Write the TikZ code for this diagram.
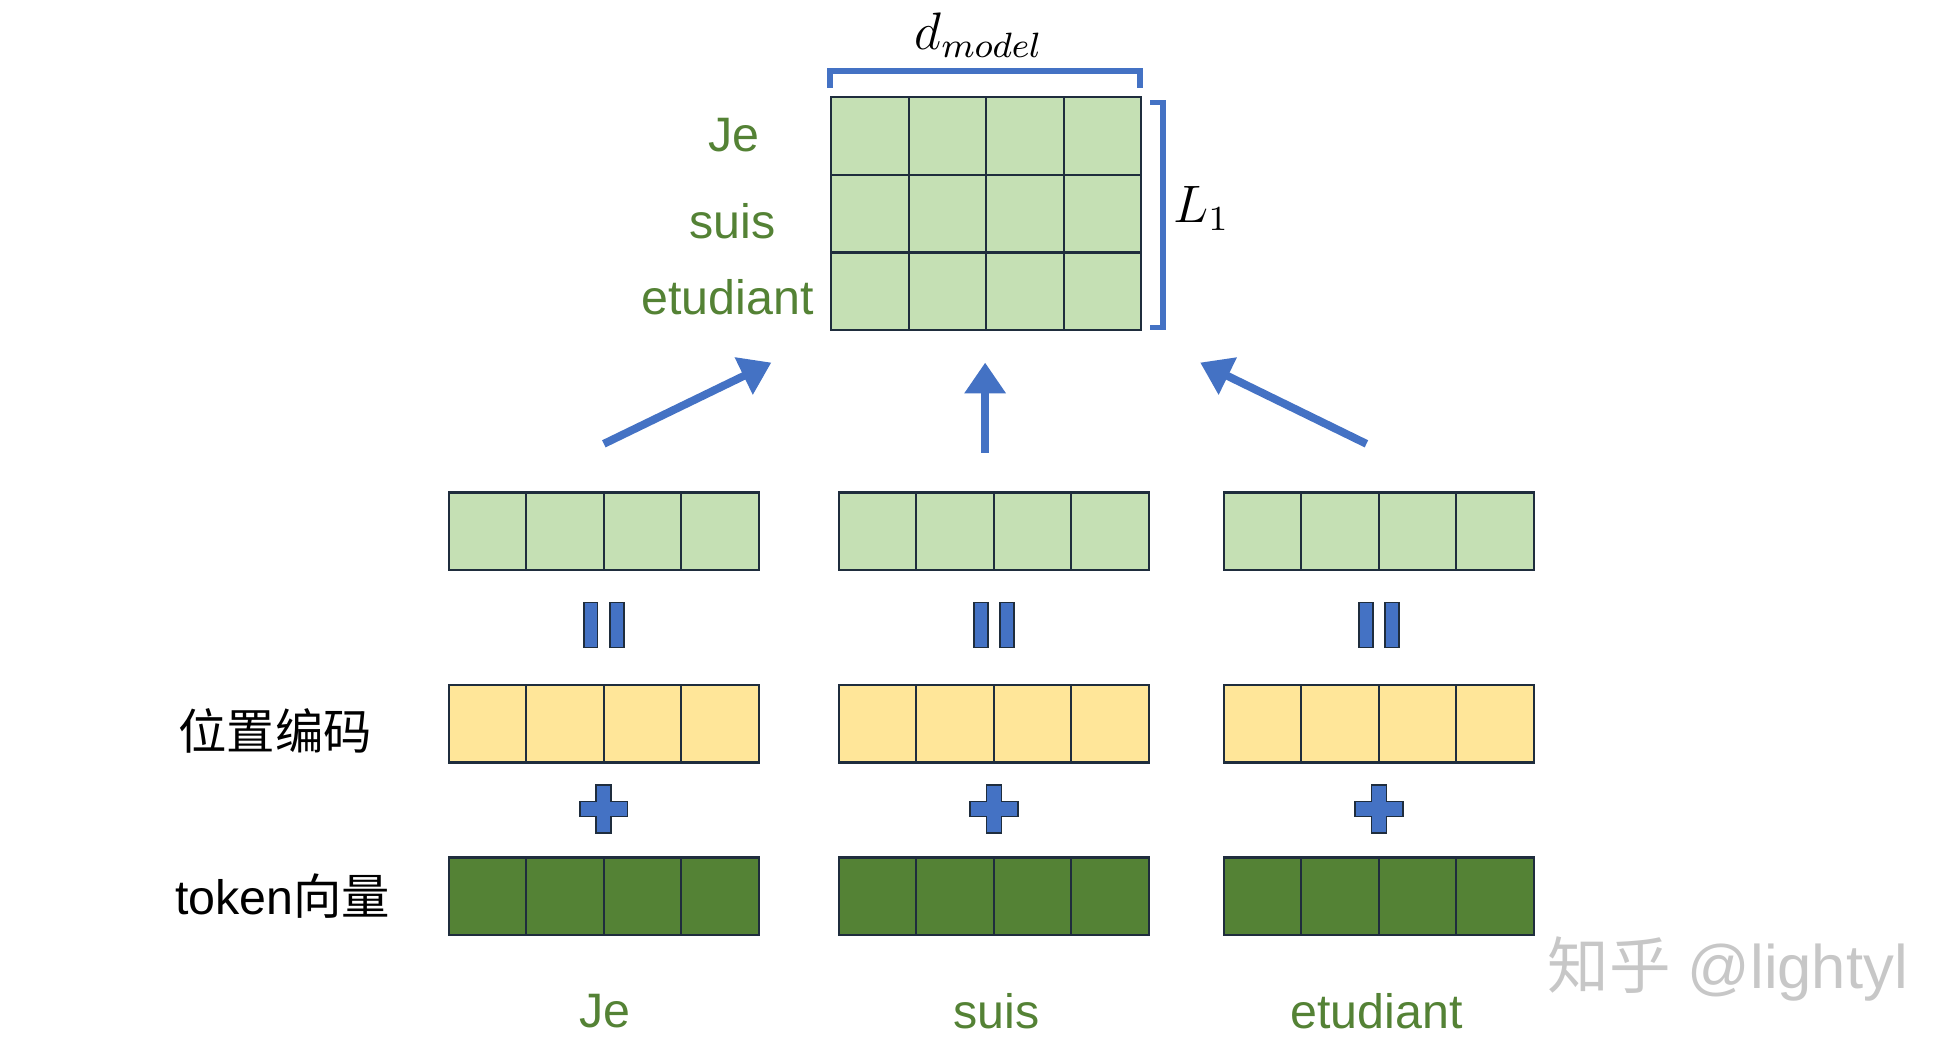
\documentclass[tikz,border=0pt]{standalone}
\usepackage{fontspec}
\setmainfont{Liberation Sans}
\newfontfamily\cjk{Noto Sans CJK SC}
\usetikzlibrary{arrows.meta}
\definecolor{lg}{HTML}{C5E0B4}
\definecolor{yl}{HTML}{FFE699}
\definecolor{dg}{HTML}{548235}
\definecolor{bl}{HTML}{4472C4}
\definecolor{bd}{HTML}{1F2D3D}
\tikzset{
 cell/.style={draw=bd,line width=0.5pt},
 word/.style={text=dg,font=\fontsize{11}{13}\selectfont},
 cn/.style={font=\fontsize{11}{13}\selectfont\cjk},
 arr/.style={draw=bl,line width=1.8pt,-{Triangle[length=7pt,width=9pt]}},
 sym/.style={fill=bl,draw=bd,line width=0.4pt}
}
\newcommand{\vrow}[4]{% x y color name
 \foreach \i in {0,...,3}{\node[cell,fill=#3,minimum width=0.62cm,minimum height=0.62cm,inner sep=0,anchor=north west] (#4\i) at (#1+62*\i,#2) {};}}
\begin{document}
\begin{tikzpicture}[x=0.01cm,y=-0.01cm]
\useasboundingbox (0,0) rectangle (1551,838);
% matrix
\foreach \r in {0,1,2}{\vrow{664}{77+62*\r}{lg}{m\r}}
\draw[bl,line width=1.3pt] (664,70) -- (664,57) -- (912,57) -- (912,70);
\draw[bl,line width=1.3pt] (920,82) -- (930,82) -- (930,262) -- (920,262);
\node (dm) at (783,28) {\fontsize{12}{14}\selectfont$d_{model}$};
\node (L1) at (961,167) {\fontsize{12}{14}\selectfont$L_1$};
\node[word] (w1) at (587,108) {Je};
\node[word] (w2) at (586,177) {suis};
\node[word] (w3) at (582,238) {etudiant};
% rows
\foreach \x/\n in {358/a,670/b,978/c}{
 \vrow{\x}{393}{lg}{g\n}
 \vrow{\x}{547}{yl}{y\n}
 \vrow{\x}{685}{dg}{t\n}
}
\foreach \c in {483,795,1103}{
 \draw[sym] (\c-16,482) rectangle (\c-5,518);
 \draw[sym] (\c+5,482) rectangle (\c+16,518);
 \draw[sym] (\c-6,628) -- (\c+6,628) -- (\c+6,641) -- (\c+19,641) -- (\c+19,653) -- (\c+6,653) -- (\c+6,666) -- (\c-6,666) -- (\c-6,653) -- (\c-19,653) -- (\c-19,641) -- (\c-6,641) -- cycle;
}
\coordinate (s1) at (483,355); \coordinate (e1) at (617,290);
\coordinate (s2) at (788,362); \coordinate (e2) at (788,290);
\coordinate (s3) at (1093,355); \coordinate (e3) at (960,290);
\draw[arr] (s1) -- (e1);
\draw[arr] (s2) -- (e2);
\draw[arr] (s3) -- (e3);
\node[cn] (pe) at (220,585) {位置编码};
\node[font=\fontsize{11}{13}\selectfont] (tk) at (226,717) {token{\cjk 向量}};
\node[word] (b1) at (484,809) {Je};
\node[word] (b2) at (797,809) {suis};
\node[word] (b3) at (1101,809) {etudiant};
\node[text=black!22,font=\fontsize{14}{16}\selectfont] (wm) at (1382,775) {{\cjk 知乎} @lightyl};
\end{tikzpicture}
\end{document}
